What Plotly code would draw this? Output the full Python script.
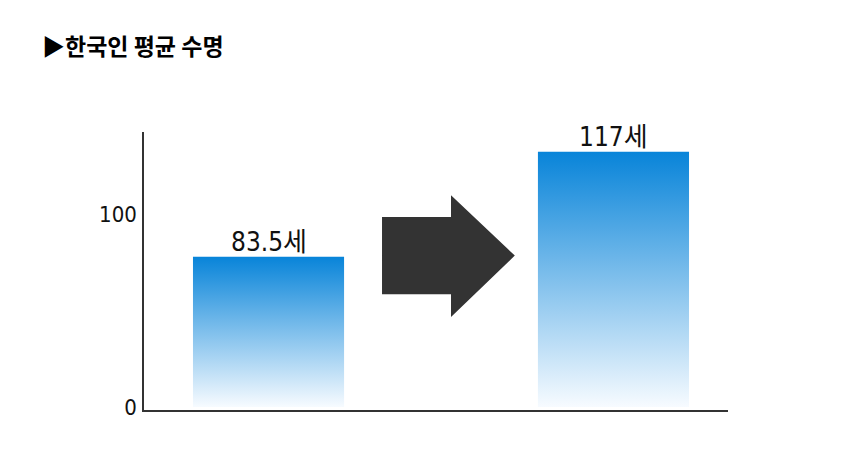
import plotly.graph_objects as go

# values
positions = [0, 1]
bar_heights = [78.1, 132.6]          # drawn bar heights on the axis
bar_labels = ["83.5세", "117세"]
tick_vals = [0, 100]
tick_text = ["0", "100"]

title = "▶한국인 평균 수명"
half_width = 0.219
top_color = "#0884d9"
bottom_color = "#f7fbff"
narrow = "Liberation Sans Narrow, DejaVu Sans Condensed, Roboto, Noto Sans CJK KR, sans-serif"

fig = go.Figure()

for x, h in zip(positions, bar_heights):
    fig.add_trace(go.Scatter(
        x=[x - half_width, x + half_width],
        y=[h, h],
        mode="lines",
        line=dict(width=0),
        fill="tozeroy",
        fillgradient=dict(
            type="vertical",
            colorscale=[[0, bottom_color], [1, top_color]],
        ),
        hoverinfo="skip",
        showlegend=False,
    ))

for x, h, lab in zip(positions, bar_heights, bar_labels):
    fig.add_annotation(
        x=x, y=h, text=lab, showarrow=False,
        yanchor="bottom", yshift=-2,
        font=dict(family=narrow, size=26, color="#111111"),
    )

# big arrow between the bars
fig.add_shape(
    type="path",
    xref="x", yref="y",
    path="M 0.329,98.7 L 0.529,98.7 L 0.529,110.0 L 0.714,78.7 "
         "L 0.529,46.8 L 0.529,58.6 L 0.329,58.6 Z",
    fillcolor="#333333",
    line=dict(width=0),
)

fig.add_annotation(
    xref="paper", yref="paper", x=-0.178, y=1.0, yshift=87,
    xanchor="left", yanchor="middle",
    text="<b>" + title + "</b>", showarrow=False,
    font=dict(family="Noto Sans CJK KR", size=23, color="#000000"),
)

fig.update_layout(
    width=860, height=466,
    margin=dict(l=144, r=132, t=132, b=56),
    paper_bgcolor="white",
    plot_bgcolor="white",
    xaxis=dict(
        range=[-0.361, 1.332],
        showticklabels=False, showgrid=False, zeroline=False,
        showline=True, linecolor="#333333", linewidth=1.5,
        ticks="", fixedrange=True,
    ),
    yaxis=dict(
        range=[-1.5, 142.9],
        tickvals=tick_vals, ticktext=tick_text,
        showgrid=False, zeroline=False,
        showline=True, linecolor="#333333", linewidth=1.5,
        ticks="", ticklabelstandoff=1,
        tickfont=dict(family=narrow, size=22, color="#111111"),
    ),
)

fig.write_html(
    "out.html",
    config={"displayModeBar": False},
    post_script="document.body.style.margin = '0';",
)
